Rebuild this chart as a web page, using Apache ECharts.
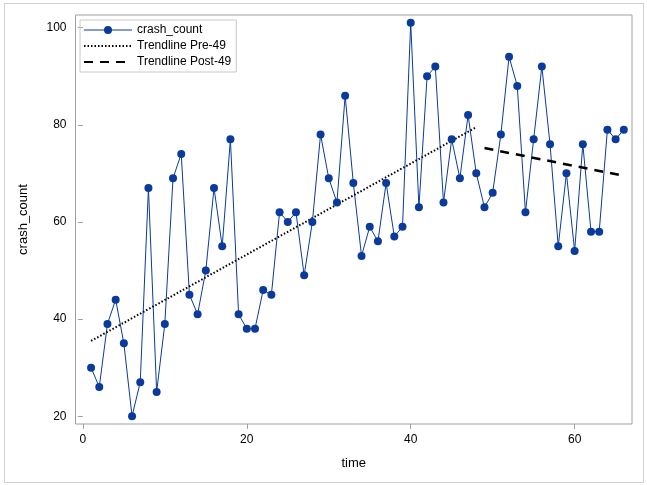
<!DOCTYPE html>
<html>
<head>
<meta charset="utf-8">
<script src="https://cdn.jsdelivr.net/npm/echarts@6/dist/echarts.min.js"></script>
<style>
  html, body { margin: 0; padding: 0; background: #fff; }
  #frame { position: absolute; left: 4px; top: 3px; width: 638px; height: 478px; border: 1px solid #d0d0d8; }
  #chart { position: absolute; left: 0; top: 0; width: 647px; height: 485px; }
</style>
</head>
<body>
<div id="frame"></div>
<div id="chart"></div>
<script>
// time index and crash counts
var times = [];
for (var i = 1; i <= 66; i++) times.push(i);
var crashCount = [30, 26, 39, 44, 35, 20, 27, 67, 25, 39,
                  69, 74, 45, 41, 50, 67, 55, 77, 41, 38,
                  38, 46, 45, 62, 60, 62, 49, 60, 78, 69,
                  64, 86, 68, 53, 59, 56, 68, 57, 59, 101,
                  63, 90, 92, 64, 77, 69, 82, 70, 63, 66,
                  78, 94, 88, 62, 77, 92, 76, 55, 70, 54,
                  76, 58, 58, 79, 77, 79];

// trendline end points
var preTime = [1, 48];
var preValue = [35.5, 79.5];
var postTime = [49, 66];
var postValue = [75.2, 69.5];

var xTicks = [0, 20, 40, 60];
var yTicks = [20, 40, 60, 80, 100];

function pairs(xs, ys) {
    return xs.map(function (x, i) { return [x, ys[i]]; });
}

var chart = echarts.init(document.getElementById('chart'));
var font = '"Liberation Sans", Arial, sans-serif';
var grey = '#a0a0a0';
var blue = '#0a3a9c';

var option = {
    animation: false,
    textStyle: { fontFamily: font },
    grid: {
        left: 75.5, right: 15, top: 15, bottom: 61,
        show: true, borderColor: grey, borderWidth: 1,
        outerBoundsMode: 'none'
    },
    legend: {
        orient: 'vertical',
        left: 80, top: 20,
        padding: [4, 5, 4, 3],
        itemWidth: 48, itemHeight: 10, itemGap: 4,
        borderColor: '#c8c8c8', borderWidth: 1,
        textStyle: { fontSize: 12, color: '#000', fontFamily: font },
        data: [
            { name: 'crash_count', lineStyle: { width: 1 } },
            { name: 'Trendline Pre-49', itemStyle: { opacity: 0 } },
            { name: 'Trendline Post-49', itemStyle: { opacity: 0 } }
        ]
    },
    xAxis: {
        type: 'value',
        min: -0.9, max: 67,
        name: 'time', nameLocation: 'middle', nameGap: 33,
        nameTextStyle: { fontSize: 13, color: '#000' },
        axisLine: { show: false },
        axisTick: { show: true, length: 5, lineStyle: { color: grey }, customValues: xTicks },
        axisLabel: { fontSize: 12, color: '#000', margin: 10, customValues: xTicks },
        splitLine: { show: false }
    },
    yAxis: {
        type: 'value',
        min: 18.4, max: 102.6,
        name: 'crash_count', nameLocation: 'middle', nameGap: 46, nameRotate: 90,
        nameTextStyle: { fontSize: 13, color: '#000' },
        axisLine: { show: false },
        axisTick: { show: true, length: 5, lineStyle: { color: grey }, customValues: yTicks },
        axisLabel: { fontSize: 12, color: '#000', margin: 9, customValues: yTicks },
        splitLine: { show: false }
    },
    series: [
        {
            name: 'crash_count',
            type: 'line',
            data: pairs(times, crashCount),
            symbol: 'circle', symbolSize: 8,
            itemStyle: { color: blue },
            lineStyle: { color: blue, width: 1 }
        },
        {
            name: 'Trendline Pre-49',
            type: 'line',
            data: pairs(preTime, preValue),
            symbol: 'none', z: 3,
            itemStyle: { color: '#000' },
            lineStyle: { color: '#000', width: 2, type: [1.5, 2] }
        },
        {
            name: 'Trendline Post-49',
            type: 'line',
            data: pairs(postTime, postValue),
            symbol: 'none', z: 3,
            itemStyle: { color: '#000' },
            lineStyle: { color: '#000', width: 2.5, type: [9, 7] }
        }
    ]
};

chart.setOption(option);
</script>
</body>
</html>
